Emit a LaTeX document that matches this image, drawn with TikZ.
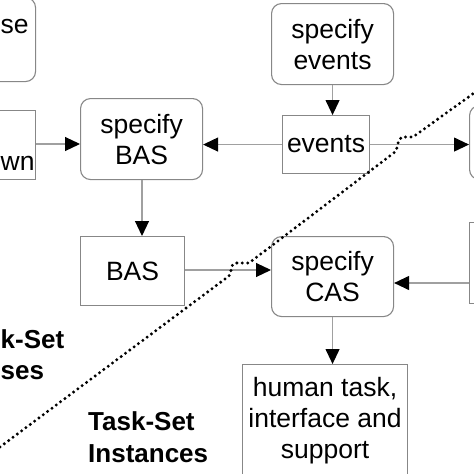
\documentclass[tikz,border=0pt]{standalone}
\usepackage{fontspec}
\setmainfont{Liberation Sans}
\usetikzlibrary{arrows.meta,calc}
\definecolor{boxgray}{RGB}{135,135,135}
\definecolor{linegray}{RGB}{160,160,160}
\begin{document}
\begin{tikzpicture}[x=1pt,y=-1pt,
  every node/.style={font=\fontsize{26.5}{31}\selectfont, inner sep=0pt},
  rbox/.style={draw=boxgray, line width=1.1pt, rounded corners=10pt, anchor=north west},
  sbox/.style={draw=boxgray, line width=1.1pt, anchor=north west},
  conn/.style={draw=linegray, line width=1.1pt, -{Triangle[length=15pt,width=14pt,color=black]}},
  dotline/.style={line width=3.3pt, line cap=round, dash pattern=on 0pt off 5.4pt, black},
  boldlabel/.style={font=\fontsize{26}{32}\selectfont\bfseries, align=left}]
\useasboundingbox (0,0) rectangle (474,474);
% boxes
\node[rbox, minimum width=95pt, minimum height=84pt] (seBox) at (-60,-3) {};
\node[sbox, minimum width=95pt, minimum height=69pt] (wnBox) at (-60,110) {};
\node[rbox, minimum width=122pt, minimum height=81pt, align=center] (specBAS) at (80,98) {specify\\BAS};
\node[rbox, minimum width=122pt, minimum height=81pt, align=center] (specEvents) at (271,3) {specify\\events};
\node[sbox, minimum width=87pt, minimum height=58pt] (events) at (282,115) {events};
\node[rbox, minimum width=60pt, minimum height=74pt] (rightTop) at (469,105) {};
\node[sbox, minimum width=104pt, minimum height=69pt] (BASbox) at (80,236) {BAS};
\node[rbox, minimum width=122pt, minimum height=80pt, align=center] (specCAS) at (271,236) {specify\\CAS};
\node[sbox, minimum width=60pt, minimum height=81pt] (rightMid) at (469,222) {};
\node[sbox, minimum width=165pt, minimum height=112pt, align=center] (human) at (242,364) {human task,\\interface and\\support};
% partial texts
\node[anchor=base west] (seText) at (0.5,33) {se};
\node[anchor=base west] (wnText) at (0.5,170) {wn};
\node[boldlabel, anchor=base west] (classA) at (0.5,348) {k-Set};
\node[boldlabel, anchor=base west] (classB) at (0.5,379) {ses};
\node[boldlabel, anchor=base west] (inst) at (88,462) {Task-Set\\Instances};
% connectors
\coordinate (cin) at (469,283);
\draw[conn] (wnBox.east |- 0,144) -- (specBAS.west |- 0,144);
\draw[conn] (events.west) -- (events.west -| specBAS.east);
\draw[conn] (events.east) -- (events.east -| rightTop.west);
\draw[conn] (specEvents.south) -- (specEvents.south |- events.north);
\draw[conn] (specBAS.south -| 142,0) -- (142,0 |- BASbox.north);
\draw[conn] (BASbox.east |- 0,270) -- (specCAS.west |- 0,270);
\draw[conn] (cin) -- (cin -| specCAS.east);
\draw[conn] (specCAS.south) -- (specCAS.south |- human.north);
% dotted boundary with line jumps
\draw[dotline] (0,447) -- (229,276) .. controls (232,273) and (230,265) .. (235,263)
  -- (249,263) -- (395,152) .. controls (398,149) and (397,139) .. (402,137)
  -- (413,137) -- (474,93);
\end{tikzpicture}
\end{document}
